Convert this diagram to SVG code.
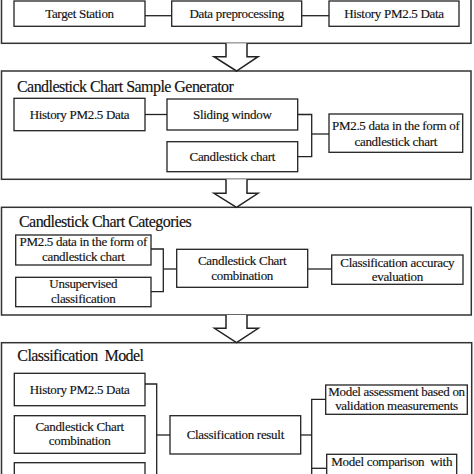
<svg xmlns="http://www.w3.org/2000/svg" width="474" height="474" viewBox="0 0 474 474">
<style>
.sec{fill:#fff;stroke:#333;stroke-width:1.5}
.box{fill:#fff;stroke:#222;stroke-width:1.3}
.t{font-family:"Liberation Serif","Times New Roman",serif;font-size:13px;letter-spacing:-0.3px;fill:#111;stroke:#111;stroke-width:0.15;text-anchor:middle}
.title{font-family:"Liberation Serif","Times New Roman",serif;font-size:16px;letter-spacing:-0.55px;fill:#111;stroke:#111;stroke-width:0.15;white-space:pre}
.ln{fill:none;stroke:#222;stroke-width:1.3}
.arr{fill:#fff;stroke:#222;stroke-width:1.5;stroke-linejoin:miter}
</style>
<rect width="474" height="474" fill="#fff"/>
<g id="sections">
<rect class="sec" x="1.5" y="-10" width="469.5" height="53.3"/>
<rect class="sec" x="1.5" y="71" width="469.5" height="108.3"/>
<rect class="sec" x="1.5" y="207.3" width="469.8" height="107.7"/>
<rect class="sec" x="1.5" y="342.7" width="470.2" height="150"/>
<text class="title" x="17" y="92.3">Candlestick Chart Sample Generator</text>
<text class="title" x="19" y="226.5">Candlestick Chart Categories</text>
<text class="title" x="17.3" y="360.7">Classification  Model</text>
</g>
<g id="arrows">
<path class="arr" d="M226,43.3 V56.7 H214 L236.5,71 L258,56.7 H247 V43.3"/>
<path class="arr" d="M226,179.3 V193.3 H214 L236.5,207.3 L258,193.3 H247 V179.3"/>
<path class="arr" d="M226,315 V328.3 H214.5 L236.5,342.7 L258.3,328.3 H247 V315"/>
</g>
<g id="connectors">
<path class="ln" d="M145,15.7 H171.7"/>
<path class="ln" d="M301.7,15.7 H329"/>
<path class="ln" d="M145,114.5 H167"/>
<path class="ln" d="M297.7,114.5 H311.7 V156.7 H297.7"/>
<path class="ln" d="M311.7,134 H329"/>
<path class="ln" d="M151,249 H163.3 V291.7 H151"/>
<path class="ln" d="M163.3,269 H176.7"/>
<path class="ln" d="M307.7,269 H331.7"/>
<path class="ln" d="M145,384 H156.7 V480"/>
<path class="ln" d="M156.7,435 H170"/>
<path class="ln" d="M300.7,435 H311.7"/>
<path class="ln" d="M311.7,480 V399.3 H325.7"/>
<path class="ln" d="M311.7,468.3 H326.7"/>
</g>
<g id="n-target-station">
<rect class="box" x="14" y="1" width="131" height="25.3"/>
<text class="t" x="79.5" y="17.5">Target Station</text>
</g>
<g id="n-data-preprocessing">
<rect class="box" x="171.7" y="1" width="130" height="25.3"/>
<text class="t" x="236.7" y="17.5">Data preprocessing</text>
</g>
<g id="n-history-top">
<rect class="box" x="329" y="1" width="130" height="25.3"/>
<text class="t" x="394" y="17.5">History PM2.5 Data</text>
</g>
<g id="n-history-2">
<rect class="box" x="14" y="98.3" width="131" height="32.4"/>
<text class="t" x="79.5" y="119">History PM2.5 Data</text>
</g>
<g id="n-sliding-window">
<rect class="box" x="167" y="99" width="130.7" height="31"/>
<text class="t" x="232.3" y="119">Sliding window</text>
</g>
<g id="n-candlestick-chart">
<rect class="box" x="167" y="141.7" width="130.7" height="30"/>
<text class="t" x="232.3" y="161.2">Candlestick chart</text>
</g>
<g id="n-pm25-form-2">
<rect class="box" x="329" y="114" width="133.7" height="38.3"/>
<text class="t" x="395.8" y="129.8">PM2.5 data in the form of</text>
<text class="t" x="395.8" y="145.5">candlestick chart</text>
</g>
<g id="n-pm25-form-3">
<rect class="box" x="15.7" y="235" width="135.3" height="30"/>
<text class="t" x="83.3" y="245.8">PM2.5 data in the form of</text>
<text class="t" x="83.3" y="261">candlestick chart</text>
</g>
<g id="n-unsupervised">
<rect class="box" x="15.7" y="277.3" width="135.3" height="29.4"/>
<text class="t" x="83.3" y="288.3">Unsupervised</text>
<text class="t" x="83.3" y="302.7">classification</text>
</g>
<g id="n-combination-3">
<rect class="box" x="176.7" y="249.3" width="131" height="38"/>
<text class="t" x="242.2" y="265">Candlestick Chart</text>
<text class="t" x="242.2" y="280">combination</text>
</g>
<g id="n-accuracy">
<rect class="box" x="331.7" y="255" width="131.3" height="29.3"/>
<text class="t" x="397.3" y="266.7">Classification accuracy</text>
<text class="t" x="397.3" y="280.7">evaluation</text>
</g>
<g id="n-history-4">
<rect class="box" x="14.3" y="373.3" width="130.7" height="32.4"/>
<text class="t" x="79.6" y="393.7">History PM2.5 Data</text>
</g>
<g id="n-combination-4">
<rect class="box" x="14.3" y="415.7" width="130.7" height="37.6"/>
<text class="t" x="79.6" y="431">Candlestick Chart</text>
<text class="t" x="79.6" y="445">combination</text>
</g>
<g id="n-third-input">
<rect class="box" x="14.3" y="462.7" width="130.7" height="30"/>
</g>
<g id="n-classification-result">
<rect class="box" x="170" y="415.7" width="130.7" height="38.3"/>
<text class="t" x="235.3" y="439.3">Classification result</text>
</g>
<g id="n-model-assessment">
<rect class="box" x="325.7" y="385" width="141.6" height="29.3"/>
<text class="t" x="396.5" y="396">Model assessment based on</text>
<text class="t" x="396.5" y="410">validation measurements</text>
</g>
<g id="n-model-comparison">
<rect class="box" x="326.7" y="454.3" width="130" height="30"/>
<text class="t" x="391.7" y="465.7" style="white-space:pre">Model comparison  with</text>
</g>
</svg>
